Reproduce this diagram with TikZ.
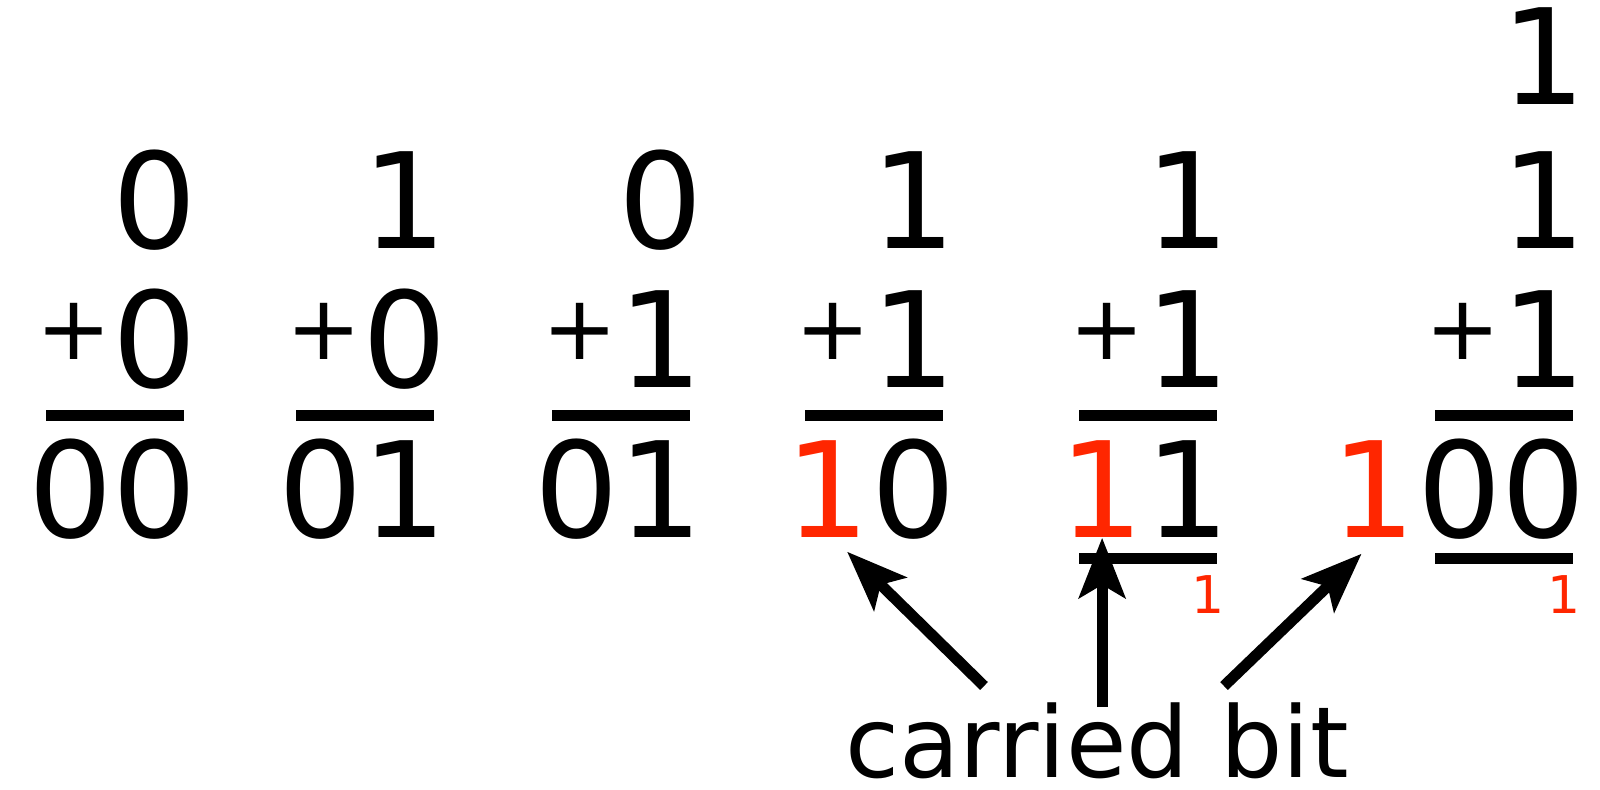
\documentclass[tikz,border=0pt]{standalone}
\usepackage{fontspec}
\setmainfont{DejaVu Sans}
\usetikzlibrary{arrows.meta, positioning}
\definecolor{carryred}{RGB}{255,38,0}

\tikzset{
  digit/.style={inner sep=0pt, anchor=base east, font=\fontsize{37.8pt}{40pt}\selectfont},
  plussign/.style={inner sep=0pt, font=\fontsize{25.5pt}{27pt}\selectfont},
  carried/.style={digit, text=carryred},
  smallcarry/.style={inner sep=0pt, anchor=base east, text=carryred, font=\fontsize{14.8pt}{16pt}\selectfont},
  sumline/.style={line width=1.1mm},
  carryarrow/.style={line width=1.1mm, -{Stealth[length=6mm, width=4.6mm, inset=1.3mm]}}
}

\begin{document}
\begin{tikzpicture}[x=0.1mm, y=-0.1mm]
\useasboundingbox (0,0) rectangle (1600,789);

\foreach \n/\r/\a/\b in {1/184/0/0, 2/434/1/0, 3/690/0/1, 4/943/1/1, 5/1217/1/1, 6/1573/1/1} {
  \node[digit] (top\n) at (\r+14,248) {\a};
  \node[digit] (add\n) at (\r+14,387) {\b};
  \node[plussign] (plus\n) at (\r-110,331) {+};
  \draw[sumline] (\r-138,415.5) -- (\r,415.5);
}
\node[digit] (extra6) at (1587,104) {1};

\node[digit] (sum1) at (198,537) {00};
\node[digit] (sum2) at (448,537) {01};
\node[digit] (sum3) at (704,537) {01};
\node[digit] (sum4) at (957,537) {0};
\node[carried] (carry4) at (sum4.base west) {1};
\node[digit] (sum5) at (1231,537) {1};
\node[carried] (carry5) at (sum5.base west) {1};
\node[digit] (sum6) at (1587,537) {00};
\node[carried] (carry6) at (sum6.base west) {1};

\draw[sumline] (1079,558.5) -- (1217,558.5);
\draw[sumline] (1435,558.5) -- (1573,558.5);
\node[smallcarry] (small5) at (1225,613) {1};
\node[smallcarry] (small6) at (1581,613) {1};

\node[inner sep=0pt, anchor=base, font=\fontsize{28pt}{30pt}\selectfont] (label) at (1097,777) {carried bit};
\coordinate (tail4) at (984,686);
\coordinate (tail5) at (carry5.south |- 0,707);
\coordinate (tail6) at (1224,686);
\draw[carryarrow] (tail4) -- ([xshift=1.9mm, yshift=-1.4mm]carry4.south);
\draw[carryarrow] (tail5) -- (carry5.south);
\draw[carryarrow] (tail6) -- ([xshift=-1.2mm, yshift=-1.6mm]carry6.south);
\end{tikzpicture}
\end{document}
